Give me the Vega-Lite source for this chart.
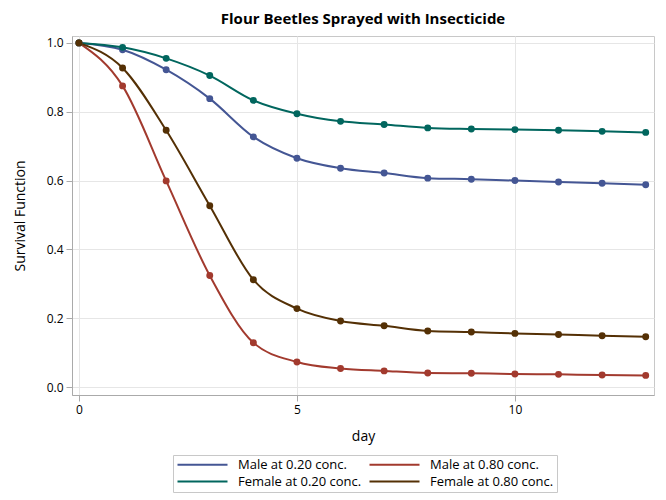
{
  "$schema": "https://vega.github.io/schema/vega-lite/v6.json",
  "autosize": {"type": "none"},
  "width": 582,
  "height": 359,
  "padding": {"left": 72, "top": 36, "right": 12, "bottom": 105},
  "background": "white",
  "title": {"text": "Flour Beetles Sprayed with Insecticide", "font": "Open Sans", "fontSize": 15, "fontWeight": "bold", "color": "#000", "offset": 9, "anchor": "middle"},
  "data": {"values": [
    {"day": 0, "S": 1.0, "group": "Male at 0.20 conc."},
    {"day": 1, "S": 0.980, "group": "Male at 0.20 conc."},
    {"day": 2, "S": 0.922, "group": "Male at 0.20 conc."},
    {"day": 3, "S": 0.838, "group": "Male at 0.20 conc."},
    {"day": 4, "S": 0.727, "group": "Male at 0.20 conc."},
    {"day": 5, "S": 0.665, "group": "Male at 0.20 conc."},
    {"day": 6, "S": 0.636, "group": "Male at 0.20 conc."},
    {"day": 7, "S": 0.622, "group": "Male at 0.20 conc."},
    {"day": 8, "S": 0.607, "group": "Male at 0.20 conc."},
    {"day": 9, "S": 0.604, "group": "Male at 0.20 conc."},
    {"day": 10, "S": 0.600, "group": "Male at 0.20 conc."},
    {"day": 11, "S": 0.596, "group": "Male at 0.20 conc."},
    {"day": 12, "S": 0.592, "group": "Male at 0.20 conc."},
    {"day": 13, "S": 0.588, "group": "Male at 0.20 conc."},
    {"day": 0, "S": 1.0, "group": "Male at 0.80 conc."},
    {"day": 1, "S": 0.875, "group": "Male at 0.80 conc."},
    {"day": 2, "S": 0.599, "group": "Male at 0.80 conc."},
    {"day": 3, "S": 0.324, "group": "Male at 0.80 conc."},
    {"day": 4, "S": 0.129, "group": "Male at 0.80 conc."},
    {"day": 5, "S": 0.073, "group": "Male at 0.80 conc."},
    {"day": 6, "S": 0.054, "group": "Male at 0.80 conc."},
    {"day": 7, "S": 0.047, "group": "Male at 0.80 conc."},
    {"day": 8, "S": 0.041, "group": "Male at 0.80 conc."},
    {"day": 9, "S": 0.040, "group": "Male at 0.80 conc."},
    {"day": 10, "S": 0.038, "group": "Male at 0.80 conc."},
    {"day": 11, "S": 0.037, "group": "Male at 0.80 conc."},
    {"day": 12, "S": 0.035, "group": "Male at 0.80 conc."},
    {"day": 13, "S": 0.034, "group": "Male at 0.80 conc."},
    {"day": 0, "S": 1.0, "group": "Female at 0.20 conc."},
    {"day": 1, "S": 0.987, "group": "Female at 0.20 conc."},
    {"day": 2, "S": 0.955, "group": "Female at 0.20 conc."},
    {"day": 3, "S": 0.905, "group": "Female at 0.20 conc."},
    {"day": 4, "S": 0.833, "group": "Female at 0.20 conc."},
    {"day": 5, "S": 0.794, "group": "Female at 0.20 conc."},
    {"day": 6, "S": 0.772, "group": "Female at 0.20 conc."},
    {"day": 7, "S": 0.763, "group": "Female at 0.20 conc."},
    {"day": 8, "S": 0.753, "group": "Female at 0.20 conc."},
    {"day": 9, "S": 0.750, "group": "Female at 0.20 conc."},
    {"day": 10, "S": 0.748, "group": "Female at 0.20 conc."},
    {"day": 11, "S": 0.746, "group": "Female at 0.20 conc."},
    {"day": 12, "S": 0.743, "group": "Female at 0.20 conc."},
    {"day": 13, "S": 0.740, "group": "Female at 0.20 conc."},
    {"day": 0, "S": 1.0, "group": "Female at 0.80 conc."},
    {"day": 1, "S": 0.927, "group": "Female at 0.80 conc."},
    {"day": 2, "S": 0.746, "group": "Female at 0.80 conc."},
    {"day": 3, "S": 0.527, "group": "Female at 0.80 conc."},
    {"day": 4, "S": 0.312, "group": "Female at 0.80 conc."},
    {"day": 5, "S": 0.228, "group": "Female at 0.80 conc."},
    {"day": 6, "S": 0.192, "group": "Female at 0.80 conc."},
    {"day": 7, "S": 0.178, "group": "Female at 0.80 conc."},
    {"day": 8, "S": 0.163, "group": "Female at 0.80 conc."},
    {"day": 9, "S": 0.160, "group": "Female at 0.80 conc."},
    {"day": 10, "S": 0.156, "group": "Female at 0.80 conc."},
    {"day": 11, "S": 0.153, "group": "Female at 0.80 conc."},
    {"day": 12, "S": 0.149, "group": "Female at 0.80 conc."},
    {"day": 13, "S": 0.146, "group": "Female at 0.80 conc."}
  ]},
  "encoding": {
    "x": {"field": "day", "type": "quantitative", "title": "day",
      "scale": {"domain": [-0.16, 13.19], "nice": false, "zero": false},
      "axis": {"values": [0, 5, 10], "titlePadding": 14}},
    "y": {"field": "S", "type": "quantitative", "title": "Survival Function",
      "scale": {"domain": [-0.023, 1.02], "nice": false, "zero": false},
      "axis": {"values": [0, 0.2, 0.4, 0.6, 0.8, 1.0], "format": ".1f", "titlePadding": 19}},
    "color": {"field": "group", "type": "nominal", "title": null,
      "sort": ["Male at 0.20 conc.", "Male at 0.80 conc.", "Female at 0.20 conc.", "Female at 0.80 conc."],
      "scale": {"domain": ["Male at 0.20 conc.", "Male at 0.80 conc.", "Female at 0.20 conc.", "Female at 0.80 conc."],
        "range": ["#445694", "#A23A2E", "#01665E", "#543005"]}}
  },
  "layer": [
    {"mark": {"type": "line", "interpolate": "monotone", "strokeWidth": 2}},
    {"mark": {"type": "circle", "size": 48, "opacity": 1}}
  ],
  "config": {
    "font": "Open Sans",
    "view": {"stroke": "#c8c8c8", "strokeWidth": 1},
    "axis": {
      "labelFont": "Open Sans", "labelFontSize": 12, "labelColor": "#000",
      "titleFont": "Open Sans", "titleFontSize": 14, "titleFontWeight": "normal", "titleColor": "#000",
      "gridColor": "#e6e6e6", "domainColor": "#aaaaaa", "tickColor": "#aaaaaa", "tickSize": 6,
      "labelPadding": 3
    },
    "legend": {
      "orient": "none", "legendX": 101, "legendY": 419, "direction": "horizontal", "columns": 2,
      "symbolType": "M-1,0H9", "symbolSize": 100, "symbolStrokeWidth": 2,
      "labelFont": "Open Sans", "labelFontSize": 13, "labelColor": "#000",
      "strokeColor": "#c8c8c8", "padding": 3, "rowPadding": 3, "columnPadding": 3,
      "labelOffset": 49
    }
  }
}
